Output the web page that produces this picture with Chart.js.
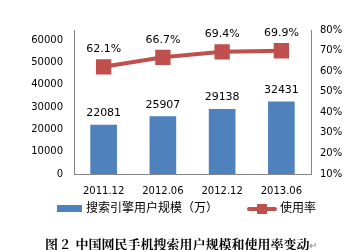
<!DOCTYPE html>
<html>
<head>
<meta charset="utf-8">
<script src="https://cdn.jsdelivr.net/npm/chart.js@4"></script>
<style>
  body { margin: 0; background: #fff; width: 348px; height: 250px; overflow: hidden; position: relative; }
  #wrap { position: absolute; left: 0; top: 0; width: 348px; height: 208px; }
  .legend { position: absolute; top: 198px; font: 12px "Noto Sans CJK SC", sans-serif; color: #000; white-space: nowrap; }
  .title { position: absolute; left: 45px; top: 234px; font: bold 13px "Noto Serif CJK SC", "Noto Sans CJK SC", serif; color: #000; white-space: nowrap; }
</style>
</head>
<body>
<div id="wrap"><canvas id="chart"></canvas></div>
<div class="legend" style="left:57px;">
  <span style="display:inline-block;width:25px;height:7px;background:#4F81BD;vertical-align:middle;margin-right:4px;"></span>搜索引擎用户规模（万）
</div>
<div class="legend" style="left:247px;">
  <span style="display:inline-block;position:relative;width:30px;height:10px;vertical-align:middle;margin-right:3px;">
    <span style="position:absolute;left:0;top:3px;width:30px;height:4px;background:#C0504D;border-radius:2px;"></span>
    <span style="position:absolute;left:10px;top:0;width:10px;height:10px;background:#C0504D;"></span>
  </span>使用率
</div>
<div class="title">图 2&nbsp; 中国网民手机搜索用户规模和使用率变动<span style="font-weight:normal;color:#888;font-size:10px;">↵</span></div>
<script>
const categories = ['2011.12', '2012.06', '2012.12', '2013.06'];
const users = [22081, 25907, 29138, 32431];
const rate = [62.1, 66.7, 69.4, 69.9];
const leftTicks = [0, 10000, 20000, 30000, 40000, 50000, 60000];
const rightTicks = [10, 20, 30, 40, 50, 60, 70, 80];

const valueLabels = {
  id: 'valueLabels',
  afterDatasetsDraw(chart) {
    const ctx = chart.ctx;
    ctx.save();
    ctx.font = '11px "DejaVu Sans", sans-serif';
    ctx.fillStyle = '#000';
    ctx.textAlign = 'center';
    ctx.textBaseline = 'bottom';
    chart.getDatasetMeta(1).data.forEach((el, i) => {
      ctx.fillText(users[i], el.x, el.y - 6);
    });
    chart.getDatasetMeta(0).data.forEach((el, i) => {
      ctx.fillText(rate[i].toFixed(1) + '%', el.x, el.y - 12);
    });
    ctx.restore();
  }
};

new Chart(document.getElementById('chart'), {
  data: {
    labels: categories,
    datasets: [
      {
        type: 'line',
        label: '使用率',
        data: rate,
        yAxisID: 'y1',
        borderColor: '#C0504D',
        backgroundColor: '#C0504D',
        borderWidth: 4,
        pointStyle: 'rect',
        pointRadius: 8,
        pointHoverRadius: 8,
        tension: 0
      },
      {
        type: 'bar',
        label: '搜索引擎用户规模（万）',
        data: users,
        yAxisID: 'y',
        backgroundColor: '#4F81BD',
        categoryPercentage: 1,
        barPercentage: 0.45
      }
    ]
  },
  options: {
    responsive: true,
    maintainAspectRatio: false,
    animation: false,
    layout: { padding: { top: 30, right: 0, left: 0, bottom: 0 } },
    plugins: { legend: { display: false }, tooltip: { enabled: false } },
    scales: {
      x: {
        grid: { display: false, drawTicks: false },
        border: { color: '#868686' },
        ticks: { color: '#000', font: { family: '"DejaVu Sans"', size: 10 }, padding: 11 }
      },
      y: {
        position: 'left',
        min: 0,
        max: 64500,
        afterBuildTicks: axis => { axis.ticks = leftTicks.map(v => ({ value: v })); },
        afterFit: axis => { axis.width = 74; },
        grid: { display: false, drawOnChartArea: false, drawTicks: true, tickLength: 4, tickColor: '#868686' },
        border: { color: '#868686' },
        ticks: { color: '#000', font: { family: '"DejaVu Sans"', size: 10 }, padding: 7, callback: v => String(v) }
      },
      y1: {
        position: 'right',
        min: 10,
        max: 80,
        afterBuildTicks: axis => { axis.ticks = rightTicks.map(v => ({ value: v })); },
        afterFit: axis => { axis.width = 37; },
        grid: { display: false, drawOnChartArea: false, drawTicks: true, tickLength: 4, tickColor: '#868686' },
        border: { color: '#868686' },
        ticks: { color: '#000', font: { family: '"DejaVu Sans"', size: 10 }, padding: 5, callback: v => v + '%' }
      }
    }
  },
  plugins: [valueLabels]
});
</script>
</body>
</html>
